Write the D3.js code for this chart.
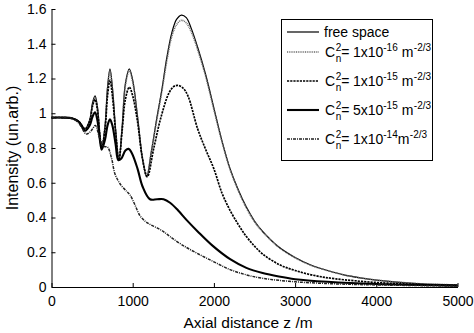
<!DOCTYPE html>
<html>
<head>
<meta charset="utf-8">
<script src="https://cdn.jsdelivr.net/npm/d3@7"></script>
<style>
  html, body { margin: 0; padding: 0; background: #fff; }
  svg { display: block; font-family: "Liberation Sans", Arial, sans-serif; }
</style>
</head>
<body>
<svg id="chart" width="474" height="333"></svg>
<script>
// Axial distance samples (m) and on-axis intensity for each turbulence strength
const zFree = [0, 150, 260, 340, 413, 470, 505, 536, 565, 595, 618, 660, 690, 720, 750, 790, 830, 870, 910, 958, 1000, 1060, 1120, 1172, 1230, 1300, 1357, 1420, 1480, 1540, 1600, 1660, 1720, 1800, 1900, 2000, 2100, 2200, 2300, 2400, 2500, 2600, 2800, 3000, 3200, 3400, 3600, 3800, 4000, 4500, 5000];
const freeSpace = [0.975, 0.975, 0.97, 0.95, 0.91, 0.96, 1.06, 1.10, 1.04, 0.88, 0.80, 0.93, 1.15, 1.255, 1.15, 0.90, 0.73, 0.92, 1.17, 1.255, 1.19, 0.98, 0.74, 0.634, 0.78, 0.98, 1.13, 1.32, 1.46, 1.54, 1.565, 1.55, 1.49, 1.38, 1.22, 1.03, 0.84, 0.68, 0.56, 0.46, 0.38, 0.32, 0.23, 0.17, 0.125, 0.095, 0.07, 0.053, 0.04, 0.02, 0.012];
const cn16 = [0.975, 0.975, 0.97, 0.95, 0.91, 0.955, 1.05, 1.09, 1.03, 0.88, 0.80, 0.93, 1.14, 1.24, 1.14, 0.90, 0.73, 0.92, 1.16, 1.245, 1.18, 0.975, 0.74, 0.636, 0.78, 0.97, 1.12, 1.30, 1.44, 1.51, 1.535, 1.52, 1.47, 1.365, 1.21, 1.02, 0.835, 0.675, 0.555, 0.455, 0.375, 0.318, 0.228, 0.168, 0.124, 0.094, 0.07, 0.053, 0.04, 0.02, 0.012];

const z15 = [0, 150, 260, 340, 413, 470, 505, 536, 565, 595, 618, 660, 690, 720, 750, 790, 830, 870, 910, 958, 1000, 1060, 1120, 1180, 1260, 1350, 1450, 1510, 1560, 1620, 1680, 1800, 1900, 2000, 2100, 2200, 2300, 2400, 2500, 2600, 2800, 3000, 3250, 3500, 4000, 4500, 5000];
const cn15 = [0.975, 0.975, 0.97, 0.95, 0.91, 0.955, 1.04, 1.08, 1.02, 0.87, 0.80, 0.91, 1.10, 1.19, 1.10, 0.89, 0.73, 0.90, 1.08, 1.15, 1.10, 0.95, 0.74, 0.635, 0.80, 0.98, 1.12, 1.155, 1.16, 1.145, 1.10, 0.91, 0.79, 0.68, 0.54, 0.44, 0.36, 0.29, 0.235, 0.19, 0.13, 0.095, 0.065, 0.047, 0.026, 0.015, 0.008];

const z5e15 = [0, 150, 260, 340, 413, 470, 505, 536, 565, 595, 618, 660, 690, 720, 750, 790, 823, 860, 910, 950, 990, 1060, 1120, 1213, 1300, 1380, 1460, 1560, 1665, 1800, 1990, 2200, 2400, 2600, 2800, 3000, 3400, 4000, 4500, 5000];
const cn5e15 = [0.975, 0.975, 0.97, 0.95, 0.90, 0.93, 0.98, 1.005, 0.96, 0.85, 0.79, 0.85, 0.93, 0.965, 0.93, 0.82, 0.73, 0.74, 0.785, 0.795, 0.77, 0.68, 0.58, 0.505, 0.505, 0.505, 0.485, 0.44, 0.385, 0.32, 0.235, 0.16, 0.11, 0.08, 0.06, 0.045, 0.03, 0.017, 0.012, 0.008];

const z14 = [0, 150, 260, 340, 430, 490, 540, 590, 640, 690, 740, 782, 850, 926, 967, 1030, 1090, 1150, 1213, 1300, 1375, 1460, 1600, 1788, 2000, 2200, 2400, 2600, 3000, 3500, 4000, 5000];
const cn14 = [0.975, 0.975, 0.97, 0.94, 0.88, 0.90, 0.93, 0.86, 0.81, 0.805, 0.74, 0.65, 0.59, 0.55, 0.53, 0.47, 0.41, 0.38, 0.36, 0.34, 0.32, 0.29, 0.245, 0.195, 0.145, 0.10, 0.07, 0.05, 0.03, 0.018, 0.012, 0.005];

const xTicks = [0, 1000, 2000, 3000, 4000, 5000];
const yTicks = [0, 0.2, 0.4, 0.6, 0.8, 1, 1.2, 1.4, 1.6];
const legendExponents = ["-16", "-15", "-15", "-14"];
const legendCoeffs = ["1", "1", "5", "1"];

const svg = d3.select("#chart");
const x = d3.scaleLinear().domain([0, 5000]).range([51.5, 457.5]);
const y = d3.scaleLinear().domain([0, 1.6]).range([287, 9]);

// Axes with inward ticks
const xAxis = d3.axisBottom(x).tickValues(xTicks).tickSizeInner(-4).tickSizeOuter(0).tickPadding(9).tickFormat(d3.format("d"));
const yAxis = d3.axisLeft(y).tickValues(yTicks).tickSizeInner(-4).tickSizeOuter(0).tickPadding(5).tickFormat(d => String(+d.toFixed(1)));

const gx = svg.append("g").attr("transform", `translate(0,${y(0)})`).call(xAxis);
const gy = svg.append("g").attr("transform", `translate(${x(0)},0)`).call(yAxis);
[gx, gy].forEach(g => {
  g.select(".domain").attr("stroke", "#000").attr("stroke-width", 1);
  g.selectAll(".tick line").attr("stroke", "#000");
  g.selectAll(".tick text").attr("fill", "#000").attr("font-size", 14).attr("font-family", "Liberation Sans, Arial, sans-serif");
});

const line = d3.line().x(d => x(d[0])).y(d => y(d[1])).curve(d3.curveCatmullRom.alpha(0.5));
const pairs = (zs, vs) => zs.map((z, i) => [z, vs[i]]);

const series = [
  { name: "free", data: pairs(zFree, freeSpace), color: "#000", width: 1.2, dash: null },
  { name: "1e-16", data: pairs(zFree, cn16), color: "#6a6a6a", width: 1.6, dash: "1,0.8" },
  { name: "1e-15", data: pairs(z15, cn15), color: "#000", width: 1.7, dash: "2.2,1" },
  { name: "5e-15", data: pairs(z5e15, cn5e15), color: "#000", width: 2.1, dash: null },
  { name: "1e-14", data: pairs(z14, cn14), color: "#222", width: 1.5, dash: "3,1,1,1" }
];

svg.append("g").selectAll("path").data(series).join("path")
  .attr("fill", "none")
  .attr("stroke", d => d.color)
  .attr("stroke-width", d => d.width)
  .attr("stroke-dasharray", d => d.dash)
  .attr("d", d => line(d.data));

// Axis titles
svg.append("text").attr("x", 248).attr("y", 328).attr("text-anchor", "middle")
  .attr("font-size", 15.5).text("Axial distance z /m");
svg.append("text").attr("transform", "translate(18,148) rotate(-90)").attr("text-anchor", "middle")
  .attr("font-size", 16).text("Intensity (un.arb.)");

// Legend
const lg = svg.append("g");
lg.append("rect").attr("x", 281.5).attr("y", 19.5).attr("width", 151).attr("height", 141)
  .attr("fill", "#fff").attr("stroke", "#000").attr("stroke-width", 1);

const rowY = [32, 52, 81, 110, 139];
series.forEach((s, i) => {
  lg.append("line").attr("x1", 287).attr("x2", 319).attr("y1", rowY[i]).attr("y2", rowY[i])
    .attr("stroke", s.color).attr("stroke-width", s.width).attr("stroke-dasharray", s.dash);
});

lg.append("text").attr("x", 324).attr("y", rowY[0] + 5).attr("font-size", 14).text("free space");

function putText(xp, yp, str, size) {
  const t = lg.append("text").attr("x", xp).attr("y", yp).attr("font-size", size).text(str);
  return xp + t.node().getComputedTextLength();
}

legendExponents.forEach((ex, i) => {
  const base = rowY[i + 1] + 5;
  let cx = putText(325, base, "C", 14);
  const sx = cx + 0.5;
  putText(sx, base - 6.5, "2", 10);
  const nEnd = putText(sx, base + 5, "n", 10);
  cx = Math.max(nEnd, sx + 5.5);
  cx = putText(cx, base, "=", 14);
  cx = putText(cx + 3.5, base, legendCoeffs[i] + "x10", 14);
  cx = putText(cx, base - 6.5, ex, 10);
  cx = putText(cx + (i === 3 ? 0 : 4), base, "m", 14);
  putText(cx + 0.5, base - 6.5, "-2/3", 10);
});
</script>
</body>
</html>
